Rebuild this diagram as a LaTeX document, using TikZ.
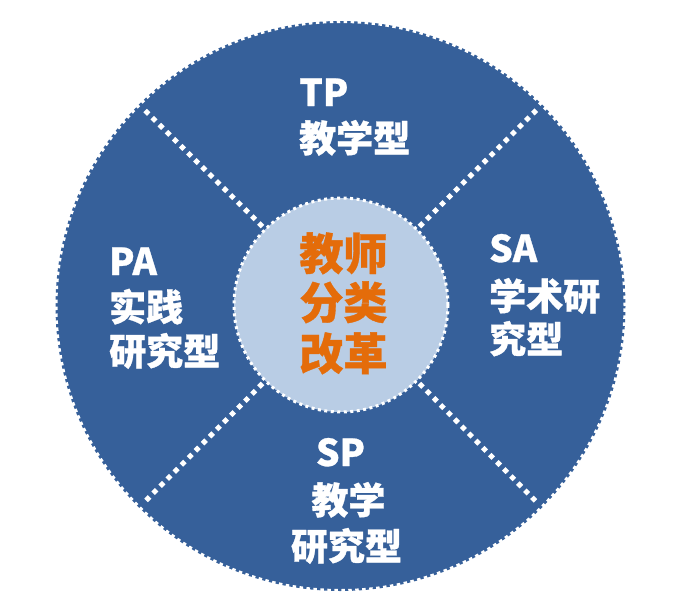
\documentclass[tikz,border=0pt]{standalone}
\usepackage{fontspec}
\newfontfamily\cjk{Noto Sans CJK SC}[BoldFeatures={FakeBold=0.8}]
\definecolor{dblue}{HTML}{36609A}
\definecolor{lblue}{HTML}{B9CDE5}
\definecolor{orng}{HTML}{E46C0A}
\begin{document}
\begin{tikzpicture}[x=1pt,y=-1pt,
  wt/.style={font=\cjk\bfseries\fontsize{37}{44}\selectfont, text=white, inner sep=0pt, anchor=base west},
  ot/.style={font=\cjk\bfseries\fontsize{44}{50}\selectfont, text=orng, inner sep=0pt, anchor=base},
  divider/.style={white, line width=5pt, dash pattern=on 5pt off 5pt, shorten >=8pt, shorten <=4pt}]
\useasboundingbox (0,0) rectangle (681,595);
\node[circle, fill=dblue, draw=white, line width=4pt, dash pattern=on 3.5pt off 3.5pt,
      minimum size=570pt, inner sep=0pt, outer sep=0pt] (oc) at (340.5,306) {};
\node[circle, fill=lblue, draw=white, line width=3pt, dash pattern=on 3pt off 3.5pt,
      minimum size=214pt, inner sep=0pt, outer sep=0pt] (ic) at (341,305) {};
\draw[divider] (ic.45) -- (oc.45);
\draw[divider] (ic.135) -- (oc.135);
\draw[divider] (ic.225) -- (oc.225);
\draw[divider] (ic.315) -- (oc.315);
\node[wt] (tp1) at (299,106) {TP};
\node[wt] (tp2) at (299,152) {教学型};
\node[wt] (pa1) at (109,275) {PA};
\node[wt] (pa2) at (109,321) {实践};
\node[wt] (pa3) at (109,365) {研究型};
\node[wt] (sa1) at (489,262) {SA};
\node[wt] (sa2) at (489,310) {学术研};
\node[wt] (sa3) at (489,353) {究型};
\node[wt, anchor=base] (sp1) at (340.5,466) {SP};
\node[wt, anchor=base] (sp2) at (348.5,514) {教学};
\node[wt, anchor=base] (sp3) at (346.5,560) {研究型};
\node[ot] (c1) at (343.5,270) {教师};
\node[ot] (c2) at (343.5,319) {分类};
\node[ot] (c3) at (343.5,370) {改革};
\end{tikzpicture}
\end{document}
